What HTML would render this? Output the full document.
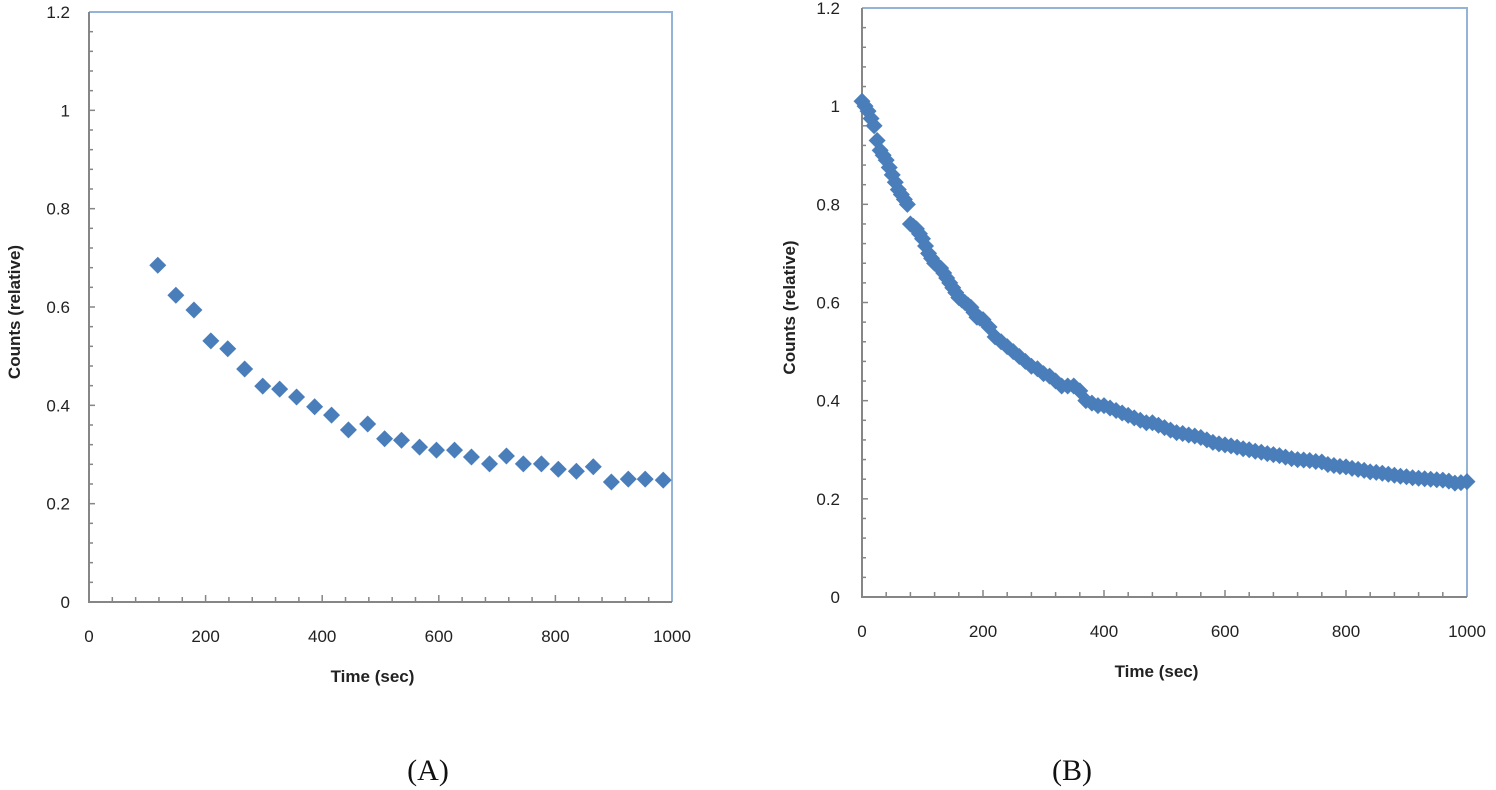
<!DOCTYPE html>
<html><head><meta charset="utf-8"><style>
html,body{margin:0;padding:0;background:#fff;}
svg{display:block;font-family:"Liberation Sans","DejaVu Sans",sans-serif;}
.tick{font-size:17px;fill:#222;}
.title{font-size:17px;font-weight:bold;fill:#222;}
.cap{font-family:"Liberation Serif",serif;font-size:30px;fill:#111;}
</style></head><body>
<svg id="fig" width="1496" height="790" viewBox="0 0 1496 790">
<text class="cap" x="428" y="780" text-anchor="middle">(A)</text>
<text class="cap" x="1072" y="780" text-anchor="middle">(B)</text>
</svg>
<script>
const ticksY = [0, 0.2, 0.4, 0.6, 0.8, 1, 1.2];
const tickLabelsY = ["0", "0.2", "0.4", "0.6", "0.8", "1", "1.2"];
const ticksX = [0, 200, 400, 600, 800, 1000];
const tickLabelsX = ["0", "200", "400", "600", "800", "1000"];
const timeA = [118,149,180,209,238,267,298,327,356,387,416,445,478,507,536,567,596,627,656,687,716,745,776,805,836,865,896,925,954,985];
const countsA = [0.685,0.624,0.594,0.531,0.515,0.474,0.439,0.433,0.417,0.397,0.380,0.350,0.362,0.332,0.329,0.315,0.309,0.309,0.295,0.281,0.297,0.281,0.281,0.270,0.266,0.275,0.244,0.250,0.250,0.248];
const timeB = [0,5,10,15,20,25,30,35,40,45,50,55,60,65,70,75,80,85,90,95,100,105,110,115,120,125,130,135,140,145,150,155,160,165,170,175,180,185,190,195,200,210,220,230,240,250,260,270,280,290,300,310,320,330,340,350,360,370,380,390,400,410,420,430,440,450,460,470,480,490,500,510,520,530,540,550,560,570,580,590,600,610,620,630,640,650,660,670,680,690,700,710,720,730,740,750,760,770,780,790,800,810,820,830,840,850,860,870,880,890,900,910,920,930,940,950,960,970,980,990,1000];
const countsB = [1.01,1.0,0.99,0.975,0.96,0.93,0.91,0.90,0.89,0.875,0.86,0.845,0.83,0.82,0.81,0.80,0.76,0.755,0.75,0.74,0.73,0.715,0.70,0.69,0.68,0.675,0.67,0.66,0.65,0.64,0.63,0.62,0.61,0.605,0.60,0.595,0.59,0.58,0.57,0.568,0.565,0.55,0.53,0.52,0.51,0.50,0.49,0.48,0.47,0.465,0.455,0.45,0.44,0.43,0.43,0.43,0.42,0.40,0.395,0.39,0.39,0.385,0.38,0.375,0.37,0.365,0.36,0.355,0.355,0.35,0.345,0.34,0.335,0.333,0.33,0.328,0.325,0.32,0.315,0.312,0.31,0.308,0.305,0.302,0.30,0.297,0.295,0.292,0.29,0.288,0.285,0.282,0.28,0.279,0.278,0.276,0.275,0.27,0.268,0.266,0.265,0.262,0.26,0.258,0.255,0.254,0.252,0.25,0.248,0.246,0.245,0.243,0.242,0.241,0.24,0.239,0.238,0.236,0.232,0.233,0.235];

const NS = "http://www.w3.org/2000/svg";
const svg = document.getElementById("fig");
function mk(tag, attrs, parent){
  const e = document.createElementNS(NS, tag);
  for (const k in attrs) e.setAttribute(k, attrs[k]);
  (parent||svg).appendChild(e);
  return e;
}
function chart(id, L, T, R, B, xs, ys, ylabX, ytitleX, mk_size){
  const g = mk("g", {});
  
  
  const sx = v => L + (v/1000)*(R-L);
  const sy = v => B - (v/1.2)*(B-T);
  const fr = mk("path", {d:`M${L},${T}H${R}V${B}`, fill:"none", stroke:"#95b3d7", "stroke-width":2}, g);
  
  
  const ax = mk("path", {d:`M${L},${T}V${B}H${R}`, fill:"none", stroke:"#868686", "stroke-width":2}, g);
  
  
  for (let i=1;i<30;i++){ const y = B - i*(B-T)/30; mk("line",{x1:L,x2:L+(i%5==0?6:4),y1:y,y2:y,stroke:"#868686","stroke-width":1.5},g); }
  for (let i=1;i<25;i++){ const x = L + i*(R-L)/25; mk("line",{x1:x,x2:x,y1:B,y2:B-(i%5==0?7:5),stroke:"#868686","stroke-width":1.5},g); }
  ticksY.forEach((v,i)=>{ const t = mk("text",{x:ylabX,y:sy(v)+6,"text-anchor":"end",class:"tick"},g); t.textContent = tickLabelsY[i];
      });
  ticksX.forEach((v,i)=>{ const t = mk("text",{x:sx(v),y:B+40,"text-anchor":"middle",class:"tick"},g); t.textContent = tickLabelsX[i];
      });
  const xt = mk("text",{x:(L+R)/2-8,y:B+80,"text-anchor":"middle",class:"title"},g); xt.textContent="Time (sec)";
   
  const cy = (T+B)/2+5;
  const yt = mk("text",{x:ytitleX,y:cy,"text-anchor":"middle",class:"title",transform:`rotate(-90 ${ytitleX} ${cy})`},g); yt.textContent="Counts (relative)";
   
  const s = mk_size;
  xs.forEach((v,i)=>{ const x = sx(v), y = sy(ys[i]);
    const p = mk("path",{d:`M${x},${y-s}L${x+s},${y}L${x},${y+s}L${x-s},${y}Z`,fill:"#4a7ebb"},g);
      });
}
chart("a", 89, 12, 672, 602, timeA, countsA, 70, 20, 8.5);
chart("b", 862, 8, 1467, 597, timeB, countsB, 840, 795, 8.5);
</script>
</body></html>
